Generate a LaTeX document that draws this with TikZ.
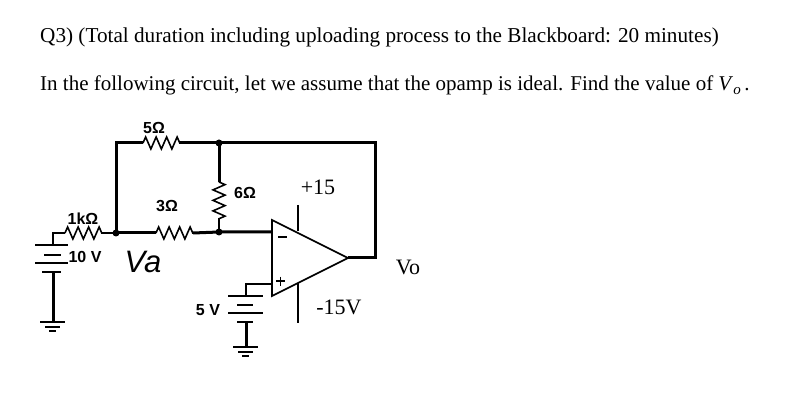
\documentclass[tikz,border=0pt]{standalone}
\usepackage{fontspec}
\setmainfont{Liberation Serif}
\newfontfamily\sansb{Liberation Sans}[Scale=1]
\usetikzlibrary{decorations.pathmorphing}
\tikzset{
  x=1pt,y=-1pt,
  wire/.style={line width=1.7pt,black},
  heavy/.style={line width=3pt,black},
  res/.style={line width=1.6pt,black,decorate,decoration={zigzag,segment length=10.5pt,amplitude=6pt}},
  dot/.style={circle,fill=black,inner sep=0pt,minimum size=7pt},
  head/.style={anchor=base west,inner sep=0pt,font=\fontsize{21}{24}\selectfont},
  val/.style={inner sep=0pt,font=\sansb\bfseries\fontsize{16}{18}\selectfont},
  lab/.style={inner sep=0pt,font=\fontsize{22}{24}\selectfont},
  plate/.style={line width=2pt,black}
}
\begin{document}
\begin{tikzpicture}
\useasboundingbox (0,0) rectangle (806,414);
\node[head,font=\fontsize{21.2}{24}\selectfont] (t1) at (40,43) {Q3) (Total duration including uploading process to the Blackboard: 20 minutes)};
\node[head] (t2) at (40,91) {In the following circuit, let we assume that the opamp is ideal. Find the value of \textit{V}\raisebox{-4pt}{\fontsize{15}{15}\selectfont\textit{o}}\,.};
% junctions
\node[dot] (va) at (116,233) {};
\node[dot] (top) at (219,143) {};
\node[dot] (mid) at (219,232) {};
\coordinate (tl) at (116,143);
\coordinate (r5a) at (143,143); \coordinate (r5b) at (180,143);
\coordinate (r6a) at (219,182); \coordinate (r6b) at (219,220);
\coordinate (r3a) at (156,233); \coordinate (r3b) at (193,233);
\coordinate (r1a) at (65,233); \coordinate (r1b) at (103,233);
\coordinate (tr) at (375,143); \coordinate (br) at (375,258);
% opamp
\coordinate (oa) at (272,220); \coordinate (ob) at (272,296); \coordinate (oc) at (348,258);
\coordinate (minus) at (272,232); \coordinate (plus) at (272,284);
\draw[wire] (oa) -- (oc) -- (ob) -- cycle;
\draw[line width=1.8pt,black] (278,237) -- (287,237);
\draw[line width=1.8pt,black] (276,281) -- (285,281) (280.5,276.5) -- (280.5,285.5);
% supply pins
\coordinate (s1) at (298,205); \coordinate (s2) at (298,231);
\coordinate (s3) at (298,283); \coordinate (s4) at (298,323);
\draw[wire] (s1) -- (s2) (s3) -- (s4);
% wires
\draw[heavy] (va.center) -- (tl) -- (r5a);
\draw[res] (r5a) -- (r5b);
\draw[heavy] (r5b) -- (top.center) -- (tr) -- (br) -- (oc);
\draw[heavy] (top.center) -- (r6a);
\draw[res] (r6a) -- (r6b);
\draw[wire] (r6b) -- (mid.center);
\draw[heavy] (va.center) -- (r3a);
\draw[res] (r3a) -- (r3b);
\draw[heavy] (r3b) -- (mid.center) -- (minus);
\draw[res] (r1a) -- (r1b);
\draw[wire] (r1b) -- (va.center);
% left source
\coordinate (b1) at (53,245); \coordinate (b2) at (53,272); \coordinate (g1) at (53,322);
\draw[wire] (r1a) -- (53,233) -- (b1);
\draw[plate] (35,245) -- (68,245) (44,255) -- (61,255) (35,263) -- (68,263) (42,272) -- (61,272);
\draw[heavy] (b2) -- (g1);
\draw[plate] (40,322) -- (65,322) (45,327) -- (60,327) (49,331) -- (56,331);
% right source
\coordinate (c1) at (246,296); \coordinate (c2) at (246,322); \coordinate (g2) at (246,347);
\draw[wire] (plus) -- (246,284) -- (c1);
\draw[plate] (228,296) -- (263,296) (237,305) -- (253,305) (228,313) -- (263,313) (237,322) -- (253,322);
\draw[heavy] (c2) -- (g2);
\draw[plate] (233,347) -- (258,347) (238,352) -- (253,352) (242,356) -- (249,356);
% labels
\node[val] (l5) at (154,128) {5Ω};
\node[val] (l3) at (167,206) {3Ω};
\node[val] (l6) at (245,193) {6Ω};
\node[val] (l1) at (83,219) {1kΩ};
\node[val] (l10) at (85,257) {10 V};
\node[val] (l5v) at (208,310) {5 V};
\node[lab] (p15) at (318,187) {+15};
\node[lab] (m15) at (339,307) {-15V};
\node[lab] (vo) at (408,267) {Vo};
\node[inner sep=0pt,font=\sansb\itshape\fontsize{31}{33}\selectfont] (vah) at (143,262) {Va};
\end{tikzpicture}
\end{document}
